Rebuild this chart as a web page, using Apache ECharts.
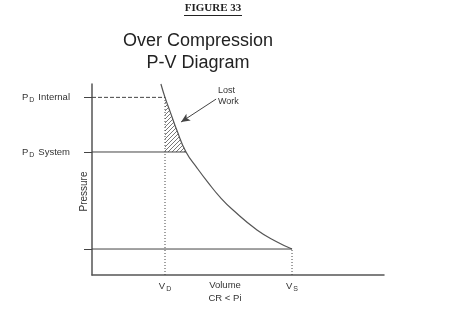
<!DOCTYPE html>
<html>
<head>
<meta charset="utf-8">
<script src="https://cdn.jsdelivr.net/npm/echarts@6/dist/echarts.min.js"></script>
<style>
html,body{margin:0;background:#fff}
#chart{width:474px;height:313px}
</style>
</head>
<body>
<div id="chart"></div>
<script>
// curve: volume (x) and pressure (y), both on a 0-100 scale
var curveV = [23.6, 25.0, 27.0, 29.0, 32.2, 36.0, 39.7, 44.0, 48.3, 56.5, 63.4, 68.5];
var curveP = [100, 93.0, 84.5, 76.0, 64.4, 56.0, 48.5, 40.5, 34.0, 23.6, 17.3, 13.6];
var vD = 25.0, vS = 68.5, vCross = 32.2;
var pInternal = 93.0, pSystem = 64.4, pSuction = 13.6;
var arrowFrom = [42.5, 92.1];
var arrowTo = [30.5, 80.1];
var xTickNames = ['D', 'S'];
var yTickNames = ['System', 'Internal'];

var font = 'Liberation Sans, Arial, sans-serif';
var ink = '#444';

// hatch pattern for the lost work area
var hatch = document.createElement('canvas');
hatch.width = 4; hatch.height = 4;
var hc = hatch.getContext('2d');
hc.fillStyle = '#777';
for (var i = 0; i < 4; i++) hc.fillRect(i, 3 - i, 1, 1);

var curveData = curveV.map(function (v, i) { return [v, curveP[i]]; });
var hatchData = curveData.filter(function (d) { return d[0] >= vD && d[0] <= vCross; });

function straight(name, data, type) {
    return {
        name: name, type: 'line', data: data, clip: false, silent: true,
        symbol: 'none', animation: false,
        lineStyle: { color: ink, width: 1, type: type || 'solid' }
    };
}

var subRich = {
    v: { fontSize: 9.5, color: '#333', fontFamily: font },
    s: { fontSize: 7, color: '#333', fontFamily: font, padding: [6, 0, 0, 1] },
    w: { fontSize: 9.5, color: '#333', fontFamily: font, padding: [0, 0, 0, 4] }
};

var chart = echarts.init(document.getElementById('chart'));
var option = {
    backgroundColor: '#fff',
    animation: false,
    title: [
        {
            text: 'FIGURE 33', left: 213, top: 3, textAlign: 'center', padding: 0,
            textStyle: { fontFamily: 'Liberation Serif, Times New Roman, serif', fontSize: 11, fontWeight: 'bold', color: '#222' }
        },
        {
            text: 'Over Compression\nP-V Diagram', left: 198, top: 30, textAlign: 'center', padding: 0,
            textStyle: { fontFamily: font, fontSize: 18, fontWeight: 'normal', lineHeight: 22, color: '#222' }
        },
        {
            text: 'Lost\nWork', left: 218, top: 85, padding: 0,
            textStyle: { fontFamily: font, fontSize: 9, fontWeight: 'normal', lineHeight: 11, color: '#333' }
        }
    ],
    graphic: [
        { type: 'line', shape: { x1: 184, y1: 15.5, x2: 242, y2: 15.5 }, style: { stroke: '#222', lineWidth: 1 } }
    ],
    grid: { left: 92, right: 90, top: 84, bottom: 38 },
    xAxis: {
        type: 'value', min: 0, max: 100,
        axisLine: { show: true, onZero: false, lineStyle: { color: '#555', width: 1.5 } },
        axisTick: { show: false },
        splitLine: { show: false },
        axisLabel: {
            customValues: [vD, vS], margin: 5,
            formatter: function (val) {
                return '{v|V}{s|' + (Math.abs(val - vD) < 0.01 ? xTickNames[0] : xTickNames[1]) + '}';
            },
            rich: subRich
        },
        name: 'Volume\nCR < Pi', nameLocation: 'middle', nameGap: 4, nameMoveOverlap: false,
        nameTextStyle: { fontFamily: font, fontSize: 9.5, lineHeight: 13, color: '#333', padding: [0, 26, 0, 0] }
    },
    yAxis: {
        type: 'value', min: 0, max: 100,
        axisLine: { show: true, onZero: false, lineStyle: { color: '#555', width: 1.5 } },
        // the pressure lines poke out a little to the left of the axis
        axisTick: {
            show: true, customValues: [pSuction, pSystem, pInternal], length: 8,
            lineStyle: { color: ink, width: 1 }
        },
        splitLine: { show: false },
        axisLabel: {
            customValues: [pSystem, pInternal], margin: 22,
            formatter: function (val) {
                return '{v|P}{s|D}{w|' + (Math.abs(val - pSystem) < 0.01 ? yTickNames[0] : yTickNames[1]) + '}';
            },
            rich: subRich
        },
        name: 'Pressure', nameLocation: 'middle', nameRotate: 90, nameGap: 3, nameMoveOverlap: false,
        nameTextStyle: { fontFamily: font, fontSize: 10, color: '#333', padding: [0, 24, 0, 0] }
    },
    series: [
        {
            name: 'curve', type: 'line', data: curveData, smooth: 0.5, clip: false, silent: true,
            symbol: 'none', animation: false,
            lineStyle: { color: '#555', width: 1.2 },
            markLine: {
                silent: true, animation: false,
                symbol: ['none', 'arrow'], symbolSize: [6, 9],
                label: { show: false },
                lineStyle: { color: ink, width: 1, type: 'solid' },
                data: [[{ coord: arrowFrom }, { coord: arrowTo }]]
            }
        },
        {
            name: 'lost work', type: 'line', data: hatchData, smooth: 0.5, clip: false, silent: true,
            symbol: 'none', animation: false,
            lineStyle: { width: 0 },
            areaStyle: { color: { image: hatch, repeat: 'repeat' }, origin: pSystem, opacity: 1 }
        },
        straight('PD internal', [[0, pInternal], [vD, pInternal]], [4, 2]),
        straight('PD system', [[0, pSystem], [vCross, pSystem]]),
        straight('suction', [[0, pSuction], [vS, pSuction]]),
        straight('VD', [[vD, 0], [vD, pInternal]], [1, 2]),
        straight('VS', [[vS, 0], [vS, pSuction]], [1, 2])
    ]
};
chart.setOption(option);
</script>
</body>
</html>
